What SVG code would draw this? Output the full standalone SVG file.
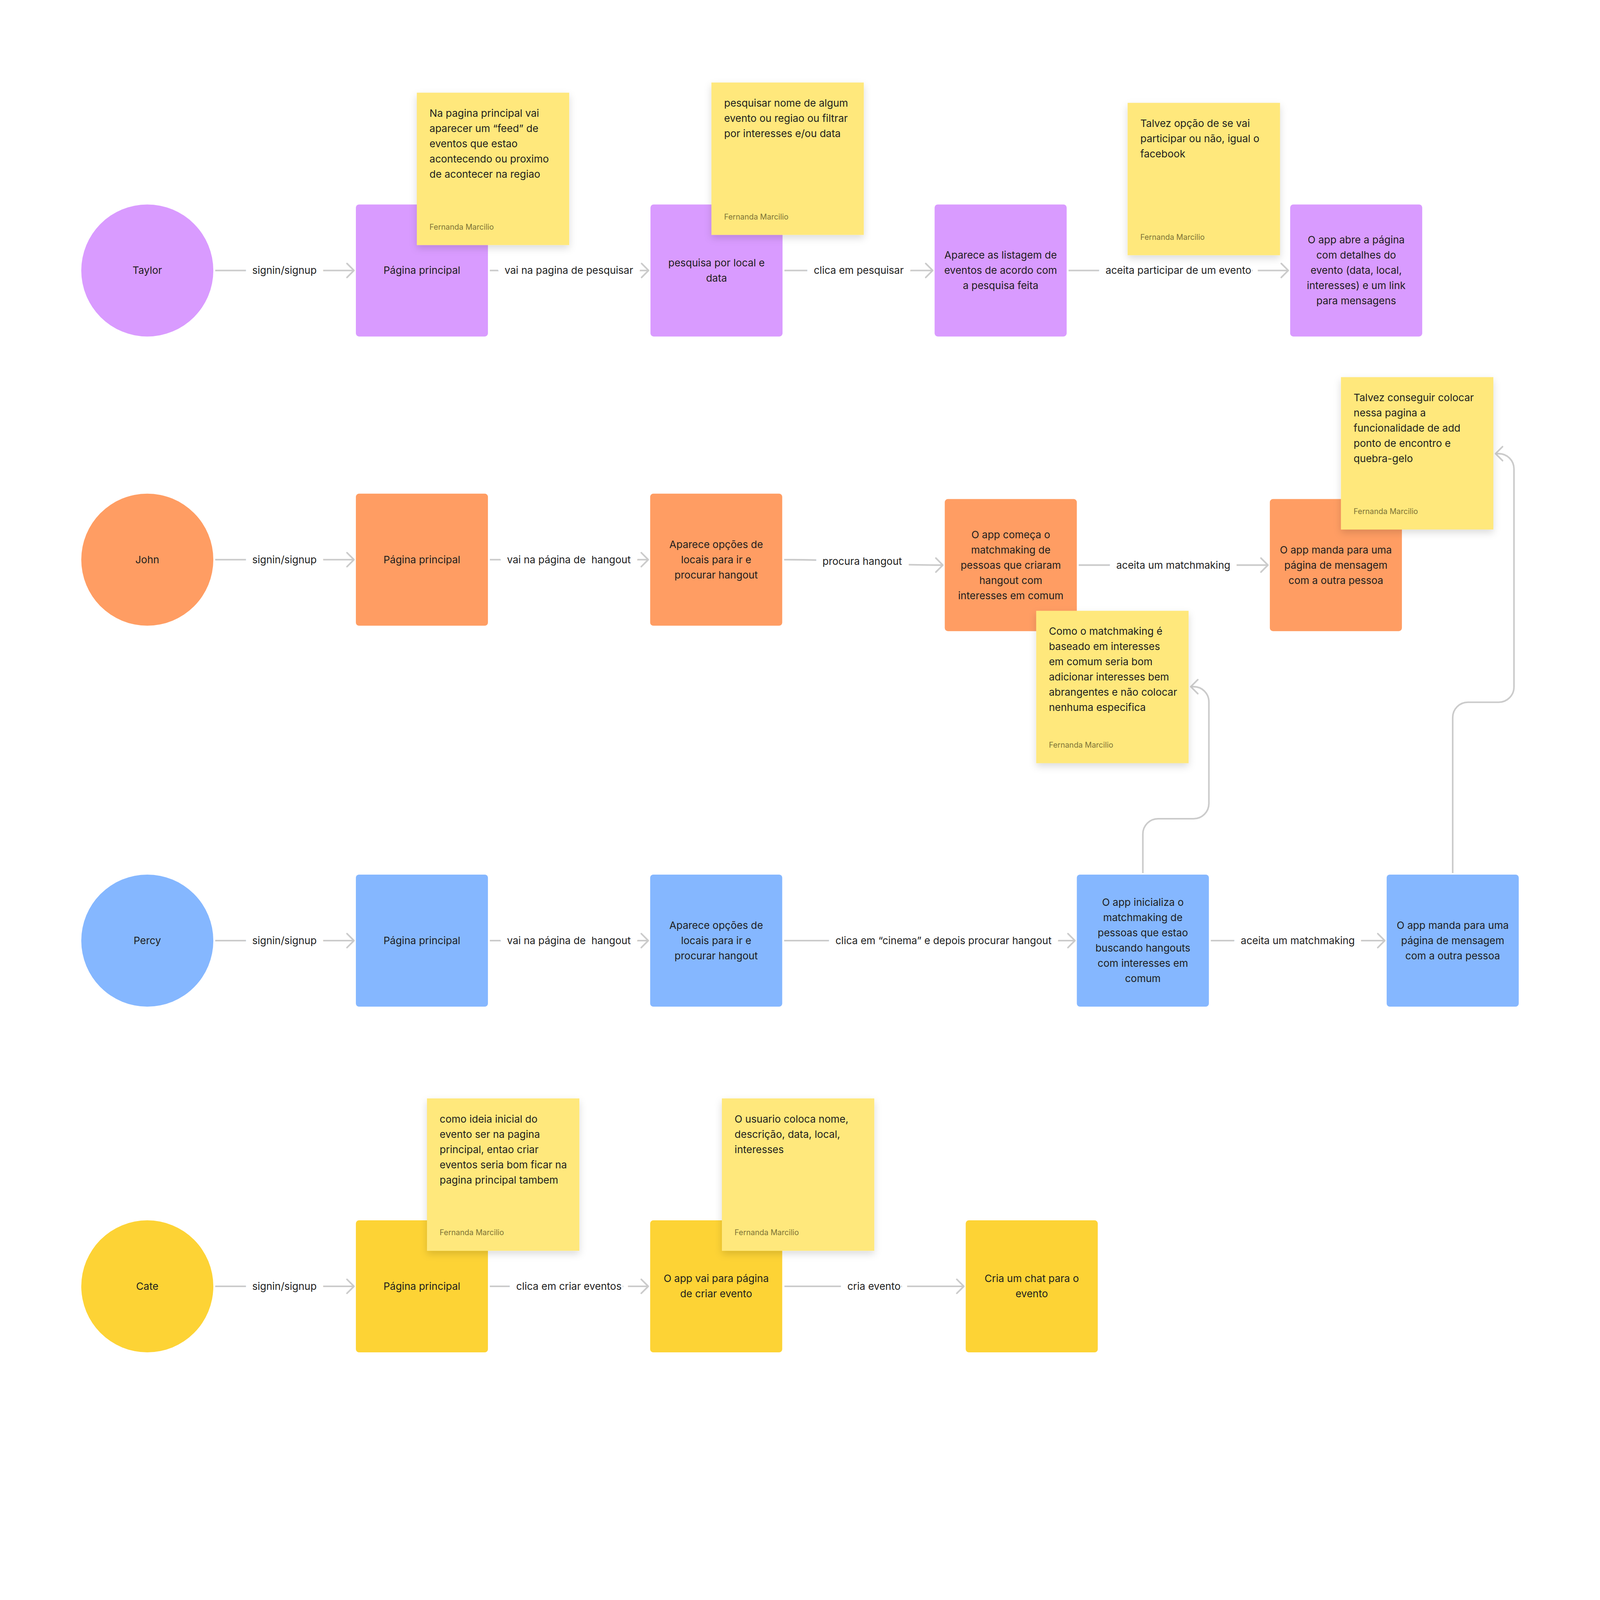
<svg xmlns="http://www.w3.org/2000/svg" width="5040" height="4516" viewBox="0 0 5040 4516" preserveAspectRatio="xMidYMin meet">
<style>
svg{width:100%;height:100%}
.t{font-family:Inter,"Noto Sans","Liberation Sans",sans-serif;font-size:32px;fill:#1e1e1e}
.c{text-anchor:middle}
.lbl{stroke:#ffffff;stroke-width:44px;stroke-linejoin:round;paint-order:stroke}
.a{font-size:24px;fill:#7d7337}
.ln{fill:none;stroke:#cbcbcb;stroke-width:5}
.pu{fill:#d99bff}.or{fill:#ff9d63}.bl{fill:#85b7ff}.ye{fill:#fdd335}
.st{fill:#ffe87c}
</style>
<defs>
<marker id="arr" markerUnits="userSpaceOnUse" viewBox="-30 -30 40 60" refX="0" refY="0" markerWidth="40" markerHeight="60" orient="auto" overflow="visible">
<path d="M-22,-22 L0,0 L-22,22" fill="none" stroke="#cbcbcb" stroke-width="5" stroke-linecap="round" stroke-linejoin="round"/>
</marker>
<filter id="sh" x="-20%" y="-20%" width="140%" height="150%">
<feDropShadow dx="0" dy="10" stdDeviation="12" flood-color="#000" flood-opacity="0.14"/>
</filter>
</defs>
<rect width="5040" height="4516" fill="#ffffff"/>

<g id="connectors">
<path class="ln" marker-end="url(#arr)" d="M678,852 L1115,852"/>
<path class="ln" marker-end="url(#arr)" d="M1543,852 L2043,852"/>
<path class="ln" marker-end="url(#arr)" d="M2471,852 L2938,852"/>
<path class="ln" marker-end="url(#arr)" d="M3366,852 L4058,852"/>
<path class="ln" marker-end="url(#arr)" d="M678,1763 L1115,1763"/>
<path class="ln" marker-end="url(#arr)" d="M1543,1763 L2042,1763"/>
<path class="ln" marker-end="url(#arr)" d="M2470,1763 C2720,1763 2720,1780 2970,1780"/>
<path class="ln" marker-end="url(#arr)" d="M3398,1780 L3994,1780"/>
<path class="ln" marker-end="url(#arr)" d="M678,2963 L1115,2963"/>
<path class="ln" marker-end="url(#arr)" d="M1543,2963 L2042,2963"/>
<path class="ln" marker-end="url(#arr)" d="M2470,2963 L3386,2963"/>
<path class="ln" marker-end="url(#arr)" d="M3814,2963 L4362,2963"/>
<path class="ln" marker-end="url(#arr)" d="M3600,2750 L3600,2627 A48,48 0 0 1 3648,2579 L3760,2579 A48,48 0 0 0 3808,2531 L3808,2211 A48,48 0 0 0 3760,2163 L3751,2163"/>
<path class="ln" marker-end="url(#arr)" d="M4576,2750 L4576,2260 A48,48 0 0 1 4624,2212 L4721,2212 A48,48 0 0 0 4769,2164 L4769,1477 A48,48 0 0 0 4721,1429 L4711,1429"/>
<path class="ln" marker-end="url(#arr)" d="M678,4052 L1115,4052"/>
<path class="ln" marker-end="url(#arr)" d="M1543,4052 L2042,4052"/>
<path class="ln" marker-end="url(#arr)" d="M2471,4052 L3036,4052"/>
<g class="t c lbl">
<text x="896" y="863">signin/signup</text>
<text x="1792" y="863">vai na pagina de pesquisar</text>
<text x="2705" y="863">clica em pesquisar</text>
<text x="3712" y="863">aceita participar de um evento</text>
<text x="896" y="1774">signin/signup</text>
<text x="1792" y="1774" xml:space="preserve">vai na página de  hangout</text>
<text x="2716" y="1779">procura hangout</text>
<text x="3696" y="1791">aceita um matchmaking</text>
<text x="896" y="2974">signin/signup</text>
<text x="1792" y="2974" xml:space="preserve">vai na página de  hangout</text>
<text x="2972" y="2974">clica em “cinema” e depois procurar hangout</text>
<text x="4088" y="2974">aceita um matchmaking</text>
<text x="896" y="4063">signin/signup</text>
<text x="1792" y="4063">clica em criar eventos</text>
<text x="2753" y="4063">cria evento</text>
</g>
</g>

<g id="taylor"><circle class="pu" cx="464" cy="852" r="208"/><text class="t c" x="464" y="863">Taylor</text></g>
<g id="t1"><rect class="pu" x="1121" y="644" width="416" height="416" rx="10"/><text class="t c" x="1329" y="863">Página principal</text></g>
<g id="t2"><rect class="pu" x="2049" y="644" width="416" height="416" rx="10"/><text class="t c" x="2257"><tspan x="2257" y="839">pesquisa por local e</tspan><tspan x="2257" y="887">data</tspan></text></g>
<g id="t3"><rect class="pu" x="2944" y="644" width="416" height="416" rx="10"/><text class="t c"><tspan x="3152" y="815">Aparece as listagem de</tspan><tspan x="3152" y="863">eventos de acordo com</tspan><tspan x="3152" y="911">a pesquisa feita</tspan></text></g>
<g id="t4"><rect class="pu" x="4064" y="644" width="416" height="416" rx="10"/><text class="t c"><tspan x="4272" y="767">O app abre a página</tspan><tspan x="4272" y="815">com detalhes do</tspan><tspan x="4272" y="863">evento (data, local,</tspan><tspan x="4272" y="911">interesses) e um link</tspan><tspan x="4272" y="959">para mensagens</tspan></text></g>

<g id="john"><circle class="or" cx="464" cy="1763" r="208"/><text class="t c" x="464" y="1774">John</text></g>
<g id="j1"><rect class="or" x="1121" y="1555" width="416" height="416" rx="10"/><text class="t c" x="1329" y="1774">Página principal</text></g>
<g id="j2"><rect class="or" x="2048" y="1555" width="416" height="416" rx="10"/><text class="t c"><tspan x="2256" y="1726">Aparece opções de</tspan><tspan x="2256" y="1774">locais para ir e</tspan><tspan x="2256" y="1822">procurar hangout</tspan></text></g>
<g id="j3"><rect class="or" x="2976" y="1572" width="416" height="416" rx="10"/><text class="t c"><tspan x="3184" y="1695">O app começa o</tspan><tspan x="3184" y="1743">matchmaking de</tspan><tspan x="3184" y="1791">pessoas que criaram</tspan><tspan x="3184" y="1839">hangout com</tspan><tspan x="3184" y="1887">interesses em comum</tspan></text></g>
<g id="j4"><rect class="or" x="4000" y="1572" width="416" height="416" rx="10"/><text class="t c"><tspan x="4208" y="1743">O app manda para uma</tspan><tspan x="4208" y="1791">página de mensagem</tspan><tspan x="4208" y="1839">com a outra pessoa</tspan></text></g>

<g id="percy"><circle class="bl" cx="464" cy="2963" r="208"/><text class="t c" x="464" y="2974">Percy</text></g>
<g id="p1"><rect class="bl" x="1121" y="2755" width="416" height="416" rx="10"/><text class="t c" x="1329" y="2974">Página principal</text></g>
<g id="p2"><rect class="bl" x="2048" y="2755" width="416" height="416" rx="10"/><text class="t c"><tspan x="2256" y="2926">Aparece opções de</tspan><tspan x="2256" y="2974">locais para ir e</tspan><tspan x="2256" y="3022">procurar hangout</tspan></text></g>
<g id="p3"><rect class="bl" x="3392" y="2755" width="416" height="416" rx="10"/><text class="t c"><tspan x="3600" y="2854">O app inicializa o</tspan><tspan x="3600" y="2902">matchmaking de</tspan><tspan x="3600" y="2950">pessoas que estao</tspan><tspan x="3600" y="2998">buscando hangouts</tspan><tspan x="3600" y="3046">com interesses em</tspan><tspan x="3600" y="3094">comum</tspan></text></g>
<g id="p4"><rect class="bl" x="4368" y="2755" width="416" height="416" rx="10"/><text class="t c"><tspan x="4576" y="2926">O app manda para uma</tspan><tspan x="4576" y="2974">página de mensagem</tspan><tspan x="4576" y="3022">com a outra pessoa</tspan></text></g>

<g id="cate"><circle class="ye" cx="464" cy="4052" r="208"/><text class="t c" x="464" y="4063">Cate</text></g>
<g id="c1"><rect class="ye" x="1121" y="3844" width="416" height="416" rx="10"/><text class="t c" x="1329" y="4063">Página principal</text></g>
<g id="c2"><rect class="ye" x="2048" y="3844" width="416" height="416" rx="10"/><text class="t c"><tspan x="2256" y="4039">O app vai para página</tspan><tspan x="2256" y="4087">de criar evento</tspan></text></g>
<g id="c3"><rect class="ye" x="3042" y="3844" width="416" height="416" rx="10"/><text class="t c"><tspan x="3250" y="4039">Cria um chat para o</tspan><tspan x="3250" y="4087">evento</tspan></text></g>

<g id="sticky1"><rect class="st" filter="url(#sh)" x="1313" y="292" width="480" height="480"/><text class="t"><tspan x="1353" y="368">Na pagina principal vai</tspan><tspan x="1353" y="416">aparecer um “feed” de</tspan><tspan x="1353" y="464">eventos que estao</tspan><tspan x="1353" y="512">acontecendo ou proximo</tspan><tspan x="1353" y="560">de acontecer na regiao</tspan></text><text class="t a" x="1353" y="723">Fernanda Marcilio</text></g>
<g id="sticky2"><rect class="st" filter="url(#sh)" x="2241" y="260" width="480" height="480"/><text class="t"><tspan x="2281" y="336">pesquisar nome de algum</tspan><tspan x="2281" y="384">evento ou regiao ou filtrar</tspan><tspan x="2281" y="432">por interesses e/ou data</tspan></text><text class="t a" x="2281" y="691">Fernanda Marcilio</text></g>
<g id="sticky3"><rect class="st" filter="url(#sh)" x="3552" y="324" width="480" height="480"/><text class="t"><tspan x="3592" y="400">Talvez opção de se vai</tspan><tspan x="3592" y="448">participar ou não, igual o</tspan><tspan x="3592" y="496">facebook</tspan></text><text class="t a" x="3592" y="755">Fernanda Marcilio</text></g>
<g id="sticky4"><rect class="st" filter="url(#sh)" x="4224" y="1188" width="480" height="480"/><text class="t"><tspan x="4264" y="1264">Talvez conseguir colocar</tspan><tspan x="4264" y="1312">nessa pagina a</tspan><tspan x="4264" y="1360">funcionalidade de add</tspan><tspan x="4264" y="1408">ponto de encontro e</tspan><tspan x="4264" y="1456">quebra-gelo</tspan></text><text class="t a" x="4264" y="1619">Fernanda Marcilio</text></g>
<g id="sticky5"><rect class="st" filter="url(#sh)" x="3264" y="1924" width="480" height="480"/><text class="t"><tspan x="3304" y="2000">Como o matchmaking é</tspan><tspan x="3304" y="2048">baseado em interesses</tspan><tspan x="3304" y="2096">em comum seria bom</tspan><tspan x="3304" y="2144">adicionar interesses bem</tspan><tspan x="3304" y="2192">abrangentes e não colocar</tspan><tspan x="3304" y="2240">nenhuma especifica</tspan></text><text class="t a" x="3304" y="2355">Fernanda Marcilio</text></g>
<g id="sticky6"><rect class="st" filter="url(#sh)" x="1345" y="3460" width="480" height="480"/><text class="t"><tspan x="1385" y="3536">como ideia inicial do</tspan><tspan x="1385" y="3584">evento ser na pagina</tspan><tspan x="1385" y="3632">principal, entao criar</tspan><tspan x="1385" y="3680">eventos seria bom ficar na</tspan><tspan x="1385" y="3728">pagina principal tambem</tspan></text><text class="t a" x="1385" y="3891">Fernanda Marcilio</text></g>
<g id="sticky7"><rect class="st" filter="url(#sh)" x="2274" y="3460" width="480" height="480"/><text class="t"><tspan x="2314" y="3536">O usuario coloca nome,</tspan><tspan x="2314" y="3584">descrição, data, local,</tspan><tspan x="2314" y="3632">interesses</tspan></text><text class="t a" x="2314" y="3891">Fernanda Marcilio</text></g>
</svg>
